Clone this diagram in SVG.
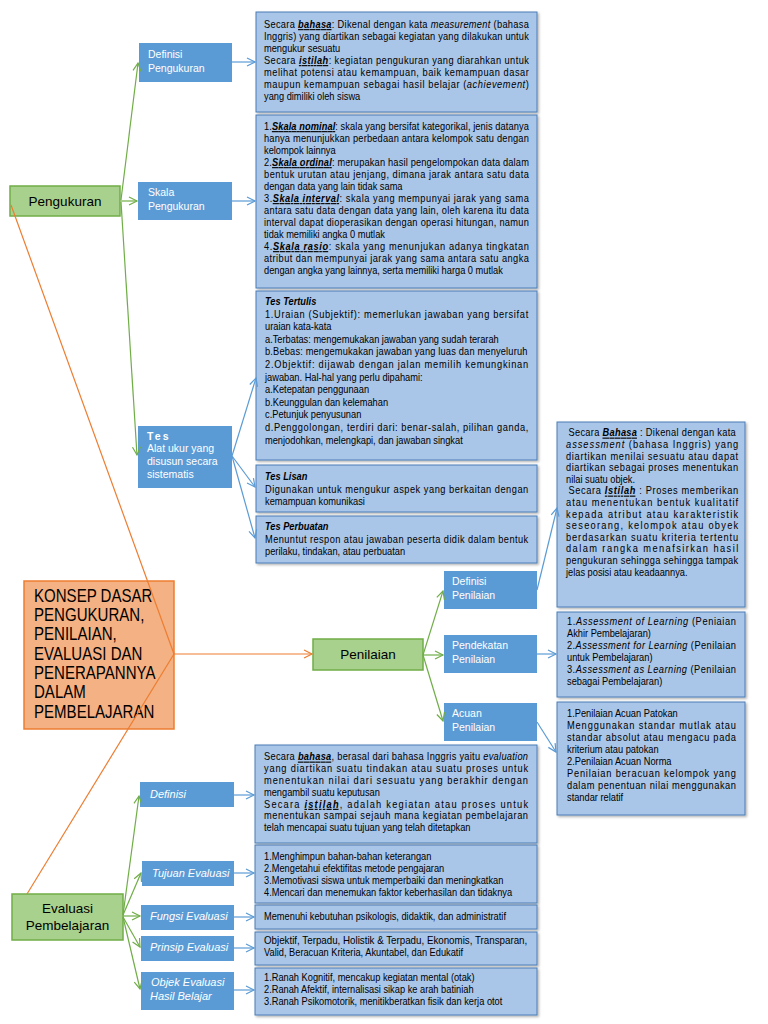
<svg xmlns="http://www.w3.org/2000/svg" width="768" height="1024" viewBox="0 0 768 1024">
<defs>
<style>
.det{fill:#a9c5e7;stroke:#4a7cb6;stroke-width:1;filter:url(#sh)}
.nb{fill:#5b9bd5}
.gr{fill:#a9d18e;stroke:#70ad47;stroke-width:1.5}
.ko{fill:#f4b183;stroke:#ed7d31;stroke-width:1.5}
.t{font-family:"Liberation Sans",Arial,sans-serif;font-size:11.3px;fill:#000}
.w{font-family:"Liberation Sans",Arial,sans-serif;font-size:10.5px;fill:#fff}
.wi{font-family:"Liberation Sans",Arial,sans-serif;font-size:11px;fill:#fff;font-style:italic}
.big{font-family:"Liberation Sans",Arial,sans-serif;font-size:13.5px;fill:#000;text-anchor:middle}
.bi{font-weight:bold;font-style:italic;text-decoration:underline}
.b2{font-weight:bold;font-style:italic}
.i{font-style:italic}
.cg{stroke:#70ad47;stroke-width:1.2;fill:none;marker-end:url(#ag)}
.cb{stroke:#5b9bd5;stroke-width:1.2;fill:none;marker-end:url(#ab)}
.co{stroke:#ed7d31;stroke-width:1.2;fill:none}
</style>
<filter id="sh" x="-5%" y="-5%" width="112%" height="115%">
<feDropShadow dx="1.5" dy="1.5" stdDeviation="0.8" flood-color="#000" flood-opacity="0.3"/>
</filter>
<marker id="ag" markerUnits="userSpaceOnUse" markerWidth="12" markerHeight="12" refX="9" refY="5" orient="auto"><path d="M1,1 L9,5 L1,9" fill="none" stroke="#70ad47" stroke-width="1.2"/></marker>
<marker id="ab" markerUnits="userSpaceOnUse" markerWidth="12" markerHeight="12" refX="9" refY="5" orient="auto"><path d="M1,1 L9,5 L1,9" fill="none" stroke="#5b9bd5" stroke-width="1.2"/></marker>
<marker id="ao" markerUnits="userSpaceOnUse" markerWidth="12" markerHeight="12" refX="9" refY="5" orient="auto"><path d="M1,1 L9,5 L1,9" fill="none" stroke="#ed7d31" stroke-width="1.2"/></marker>
</defs>
<rect width="768" height="1024" fill="#fff"/>

<g id="konsep">
<rect class="ko" x="24" y="581" width="150" height="148"/>
<g transform="translate(34,0) scale(0.86,1)" font-family="Liberation Sans,Arial,sans-serif" font-size="17.5" fill="#000">
<text x="0" y="602">KONSEP DASAR</text>
<text x="0" y="621">PENGUKURAN,</text>
<text x="0" y="640.5">PENILAIAN,</text>
<text x="0" y="660">EVALUASI DAN</text>
<text x="0" y="679">PENERAPANNYA</text>
<text x="0" y="698.5">DALAM</text>
<text x="0" y="718">PEMBELAJARAN</text>
</g>
</g>

<g id="pengukuran">
<rect class="gr" x="10" y="186" width="110" height="30"/>
<text class="big" x="65" y="205.5">Pengukuran</text>
</g>
<g id="def-pengukuran">
<rect class="nb" x="139" y="43" width="93" height="39"/>
<text class="w" x="148" y="58">Definisi</text>
<text class="w" x="148" y="72">Pengukuran</text>
</g>
<g id="skala-pengukuran">
<rect class="nb" x="138" y="182" width="94" height="38"/>
<text class="w" x="148" y="196">Skala</text>
<text class="w" x="148" y="210">Pengukuran</text>
</g>
<g id="tes">
<rect class="nb" x="138" y="426" width="94" height="62"/>
<text class="w" x="147" y="440" font-weight="bold" letter-spacing="2.2" font-size="11">Tes</text>
<text class="w" x="147" y="452" font-size="9.6">Alat ukur yang</text>
<text class="w" x="147" y="465" font-size="9.6">disusun secara</text>
<text class="w" x="147" y="477.5" font-size="9.6">sistematis</text>
</g>

<g id="box-def-pengukuran">
<rect class="det" x="256" y="12" width="281" height="100"/>
<g class="t" transform="translate(264,0) scale(0.82,1)">
<text x="0" y="28" textLength="323" lengthAdjust="spacing">Secara <tspan class="bi">bahasa</tspan>: Dikenal dengan kata <tspan class="i">measurement</tspan> (bahasa</text>
<text x="0" y="40" textLength="323" lengthAdjust="spacing">Inggris) yang diartikan sebagai kegiatan yang dilakukan untuk</text>
<text x="0" y="52">mengukur sesuatu</text>
<text x="0" y="64" textLength="323" lengthAdjust="spacing">Secara <tspan class="bi">istilah</tspan>: kegiatan pengukuran yang diarahkan untuk</text>
<text x="0" y="76" textLength="323" lengthAdjust="spacing">melihat potensi atau kemampuan, baik kemampuan dasar</text>
<text x="0" y="88" textLength="323" lengthAdjust="spacing">maupun kemampuan sebagai hasil belajar (<tspan class="i">achievement</tspan>)</text>
<text x="0" y="100">yang dimiliki oleh siswa</text>
</g>
</g>

<g id="box-skala">
<rect class="det" x="256" y="115" width="281" height="173"/>
<g class="t" transform="translate(264,0) scale(0.82,1)">
<text x="0" y="130" textLength="323" lengthAdjust="spacing">1.<tspan class="bi">Skala nominal</tspan>: skala yang bersifat kategorikal, jenis datanya</text>
<text x="0" y="142" textLength="323" lengthAdjust="spacing">hanya menunjukkan perbedaan antara kelompok satu dengan</text>
<text x="0" y="154">kelompok lainnya</text>
<text x="0" y="166" textLength="323" lengthAdjust="spacing">2.<tspan class="bi">Skala ordinal</tspan>: merupakan hasil pengelompokan data dalam</text>
<text x="0" y="178" textLength="323" lengthAdjust="spacing">bentuk urutan atau jenjang, dimana jarak antara satu data</text>
<text x="0" y="190">dengan data yang lain tidak sama</text>
<text x="0" y="202" textLength="323" lengthAdjust="spacing">3.<tspan class="bi">Skala interval</tspan>: skala yang mempunyai jarak yang sama</text>
<text x="0" y="214" textLength="323" lengthAdjust="spacing">antara satu data dengan data yang lain, oleh karena itu data</text>
<text x="0" y="226" textLength="323" lengthAdjust="spacing">interval dapat dioperasikan dengan operasi hitungan, namun</text>
<text x="0" y="238">tidak memiliki angka 0 mutlak</text>
<text x="0" y="250" textLength="323" lengthAdjust="spacing">4.<tspan class="bi">Skala rasio</tspan>: skala yang menunjukan adanya tingkatan</text>
<text x="0" y="262" textLength="323" lengthAdjust="spacing">atribut dan mempunyai jarak yang sama antara satu angka</text>
<text x="0" y="274">dengan angka yang lainnya, serta memiliki harga 0 mutlak</text>
</g>
</g>

<g id="box-tes-tertulis">
<rect class="det" x="256" y="291" width="281" height="169"/>
<g class="t" transform="translate(265,0) scale(0.82,1)">
<text x="0" y="305" class="b2">Tes Tertulis</text>
<text x="0" y="317.6" textLength="321" lengthAdjust="spacing">1.Uraian (Subjektif): memerlukan jawaban yang bersifat</text>
<text x="0" y="330.2">uraian kata-kata</text>
<text x="0" y="342.8">a.Terbatas: mengemukakan jawaban yang sudah terarah</text>
<text x="0" y="355.4" textLength="320" lengthAdjust="spacing">b.Bebas: mengemukakan jawaban yang luas dan menyeluruh</text>
<text x="0" y="368" textLength="321" lengthAdjust="spacing">2.Objektif: dijawab dengan jalan memilih kemungkinan</text>
<text x="0" y="380.6">jawaban. Hal-hal yang perlu dipahami:</text>
<text x="0" y="393.2">a.Ketepatan penggunaan</text>
<text x="0" y="405.8">b.Keunggulan dan kelemahan</text>
<text x="0" y="418.4">c.Petunjuk penyusunan</text>
<text x="0" y="431" textLength="321" lengthAdjust="spacing">d.Penggolongan, terdiri dari: benar-salah, pilihan ganda,</text>
<text x="0" y="443.6">menjodohkan, melengkapi, dan jawaban singkat</text>
</g>
</g>

<g id="box-tes-lisan">
<rect class="det" x="256" y="465" width="281" height="47"/>
<g class="t" transform="translate(265,0) scale(0.82,1)">
<text x="0" y="480" class="b2">Tes Lisan</text>
<text x="0" y="493" textLength="321" lengthAdjust="spacing">Digunakan untuk mengukur aspek yang berkaitan dengan</text>
<text x="0" y="505">kemampuan komunikasi</text>
</g>
</g>

<g id="box-tes-perbuatan">
<rect class="det" x="256" y="516" width="281" height="47"/>
<g class="t" transform="translate(265,0) scale(0.82,1)">
<text x="0" y="530" class="b2">Tes Perbuatan</text>
<text x="0" y="543" textLength="321" lengthAdjust="spacing">Menuntut respon atau jawaban peserta didik dalam bentuk</text>
<text x="0" y="555">perilaku, tindakan, atau perbuatan</text>
</g>
</g>

<g id="penilaian">
<rect class="gr" x="313" y="639" width="110" height="31"/>
<text class="big" x="368" y="659">Penilaian</text>
</g>
<g id="def-penilaian">
<rect class="nb" x="444" y="571" width="93" height="38"/>
<text class="w" x="452" y="585">Definisi</text>
<text class="w" x="452" y="599">Penilaian</text>
</g>
<g id="pendekatan-penilaian">
<rect class="nb" x="444" y="635" width="93" height="38"/>
<text class="w" x="452" y="649">Pendekatan</text>
<text class="w" x="452" y="663">Penilaian</text>
</g>
<g id="acuan-penilaian">
<rect class="nb" x="444" y="703" width="93" height="38"/>
<text class="w" x="452" y="717">Acuan</text>
<text class="w" x="452" y="731">Penilaian</text>
</g>

<g id="box-def-penilaian">
<rect class="det" x="557" y="422" width="188" height="185"/>
<g class="t" transform="translate(566,0) scale(0.82,1)">
<text x="3" y="436.5" textLength="204" lengthAdjust="spacing">Secara <tspan class="bi">Bahasa</tspan> : Dikenal dengan kata</text>
<text x="0" y="448.1" textLength="210" lengthAdjust="spacing"><tspan class="i">assessment</tspan> (bahasa Inggris) yang</text>
<text x="0" y="459.7" textLength="210" lengthAdjust="spacing">diartikan menilai sesuatu atau dapat</text>
<text x="0" y="471.3" textLength="210" lengthAdjust="spacing">diartikan sebagai proses menentukan</text>
<text x="0" y="482.9">nilai suatu objek.</text>
<text x="3" y="494.5" textLength="207" lengthAdjust="spacing">Secara <tspan class="bi">Istilah</tspan> : Proses memberikan</text>
<text x="0" y="506.1" textLength="210" lengthAdjust="spacing">atau menentukan bentuk kualitatif</text>
<text x="0" y="517.7" textLength="210" lengthAdjust="spacing">kepada atribut atau karakteristik</text>
<text x="0" y="529.3" textLength="210" lengthAdjust="spacing">seseorang, kelompok atau obyek</text>
<text x="0" y="540.9" textLength="210" lengthAdjust="spacing">berdasarkan suatu kriteria tertentu</text>
<text x="0" y="552.5" textLength="210" lengthAdjust="spacing">dalam rangka menafsirkan hasil</text>
<text x="0" y="564.1" textLength="210" lengthAdjust="spacing">pengukuran sehingga sehingga tampak</text>
<text x="0" y="575.7">jelas posisi atau keadaannya.</text>
</g>
</g>

<g id="box-pendekatan">
<rect class="det" x="557" y="612" width="188" height="85"/>
<g class="t" transform="translate(567,0) scale(0.82,1)">
<text x="0" y="625.5" textLength="206" lengthAdjust="spacing">1.<tspan class="i">Assessment of Learning</tspan> (Peniaian</text>
<text x="0" y="637.5">Akhir Pembelajaran)</text>
<text x="0" y="649.5" textLength="206" lengthAdjust="spacing">2.<tspan class="i">Assessment for Learning</tspan> (Penilaian</text>
<text x="0" y="661.5">untuk Pembelajaran)</text>
<text x="0" y="673.5" textLength="206" lengthAdjust="spacing">3.<tspan class="i">Assessment as Learning</tspan> (Penilaian</text>
<text x="0" y="685.5">sebagai Pembelajaran)</text>
</g>
</g>

<g id="box-acuan">
<rect class="det" x="557" y="702" width="188" height="113"/>
<g class="t" transform="translate(567,0) scale(0.82,1)">
<text x="0" y="717.5">1.Penilaian Acuan Patokan</text>
<text x="0" y="729.4" textLength="206" lengthAdjust="spacing">Menggunakan standar mutlak atau</text>
<text x="0" y="741.3" textLength="206" lengthAdjust="spacing">standar absolut atau mengacu pada</text>
<text x="0" y="753.2">kriterium atau patokan</text>
<text x="0" y="765.1">2.Penilaian Acuan Norma</text>
<text x="0" y="777" textLength="206" lengthAdjust="spacing">Penilaian beracuan kelompok yang</text>
<text x="0" y="788.9" textLength="206" lengthAdjust="spacing">dalam penentuan nilai menggunakan</text>
<text x="0" y="800.8">standar relatif</text>
</g>
</g>

<g id="evaluasi">
<rect class="gr" x="12" y="894" width="111" height="46"/>
<text class="big" x="67.5" y="912.5">Evaluasi</text>
<text class="big" x="67.5" y="930">Pembelajaran</text>
</g>
<g id="eval-definisi">
<rect class="nb" x="140" y="782" width="94" height="25"/>
<text class="wi" x="150" y="798">Definisi</text>
</g>
<g id="eval-tujuan">
<rect class="nb" x="142" y="861" width="92" height="25"/>
<text class="wi" x="152" y="876.5">Tujuan Evaluasi</text>
</g>
<g id="eval-fungsi">
<rect class="nb" x="141" y="905" width="93" height="25"/>
<text class="wi" x="150" y="920">Fungsi Evaluasi</text>
</g>
<g id="eval-prinsip">
<rect class="nb" x="141" y="936" width="93" height="25"/>
<text class="wi" x="150" y="951">Prinsip Evaluasi</text>
</g>
<g id="eval-objek">
<rect class="nb" x="141" y="972" width="93" height="38"/>
<text class="wi" x="151" y="986">Objek Evaluasi</text>
<text class="wi" x="150" y="1000">Hasil Belajar</text>
</g>

<g id="box-eval-def">
<rect class="det" x="255" y="745" width="282" height="98"/>
<g class="t" transform="translate(264,0) scale(0.82,1)">
<text x="0" y="760.5" textLength="322" lengthAdjust="spacing">Secara <tspan class="bi">bahasa</tspan>, berasal dari bahasa Inggris yaitu <tspan class="i">evaluation</tspan></text>
<text x="0" y="772.3" textLength="322" lengthAdjust="spacing">yang diartikan suatu tindakan atau suatu proses untuk</text>
<text x="0" y="784.1" textLength="322" lengthAdjust="spacing">menentukan nilai dari sesuatu yang berakhir dengan</text>
<text x="0" y="795.9">mengambil suatu keputusan</text>
<text x="0" y="807.7" textLength="322" lengthAdjust="spacing">Secara <tspan class="bi">istilah</tspan>, adalah kegiatan atau proses untuk</text>
<text x="0" y="819.5" textLength="322" lengthAdjust="spacing">menentukan sampai sejauh mana kegiatan pembelajaran</text>
<text x="0" y="831.3">telah mencapai suatu tujuan yang telah ditetapkan</text>
</g>
</g>

<g id="box-tujuan">
<rect class="det" x="255" y="845" width="282" height="58"/>
<g class="t" transform="translate(264,0) scale(0.82,1)">
<text x="0" y="860.5">1.Menghimpun bahan-bahan keterangan</text>
<text x="0" y="872.3">2.Mengetahui efektifitas metode pengajaran</text>
<text x="0" y="884.1">3.Memotivasi siswa untuk memperbaiki dan meningkatkan</text>
<text x="0" y="895.9">4.Mencari dan menemukan faktor keberhasilan dan tidaknya</text>
</g>
</g>

<g id="box-fungsi">
<rect class="det" x="255" y="905" width="282" height="24"/>
<g class="t" transform="translate(264,0) scale(0.82,1)">
<text x="0" y="920.5">Memenuhi kebutuhan psikologis, didaktik, dan administratif</text>
</g>
</g>

<g id="box-prinsip">
<rect class="det" x="255" y="932" width="282" height="33"/>
<g class="t" transform="translate(264,0) scale(0.82,1)">
<text x="0" y="944.5" textLength="321" lengthAdjust="spacingAndGlyphs">Objektif, Terpadu, Holistik &amp; Terpadu, Ekonomis, Transparan,</text>
<text x="0" y="956.2">Valid, Beracuan Kriteria, Akuntabel, dan Edukatif</text>
</g>
</g>

<g id="box-objek">
<rect class="det" x="255" y="968" width="282" height="47"/>
<g class="t" transform="translate(264,0) scale(0.82,1)">
<text x="0" y="981.5">1.Ranah Kognitif, mencakup kegiatan mental (otak)</text>
<text x="0" y="993.1">2.Ranah Afektif, internalisasi sikap ke arah batiniah</text>
<text x="0" y="1004.7">3.Ranah Psikomotorik, menitikberatkan fisik dan kerja otot</text>
</g>
</g>

<g id="connectors">
<path class="co" d="M174,654 L11,205"/>
<path class="co" d="M174,654 L27,894"/>
<path class="co" d="M174,654 L312,654" marker-end="url(#ao)"/>
<path class="cg" d="M121,200 L138,63"/>
<path class="cg" d="M121,201 L137,201"/>
<path class="cg" d="M121,202 L137,455"/>
<path class="cg" d="M423,655 L443,591"/>
<path class="cg" d="M423,655 L443,655"/>
<path class="cg" d="M423,655 L443,721"/>
<path class="cg" d="M123,915 L139,796"/>
<path class="cg" d="M123,915 L141,873"/>
<path class="cg" d="M123,916 L140,916"/>
<path class="cg" d="M123,917 L140,947"/>
<path class="cg" d="M123,917 L140,989"/>
<path class="cb" d="M232,62 L255,62"/>
<path class="cb" d="M232,201 L255,201"/>
<path class="cb" d="M232,456 L256,378"/>
<path class="cb" d="M232,456 L255,487"/>
<path class="cb" d="M232,456 L255,538"/>
<path class="cb" d="M537,590 L557,508"/>
<path class="cb" d="M537,654 L556,654"/>
<path class="cb" d="M537,722 L556,752"/>
<path class="cb" d="M234,795 L254,795"/>
<path class="cb" d="M234,873 L254,873"/>
<path class="cb" d="M234,917 L254,917"/>
<path class="cb" d="M234,948 L254,948"/>
<path class="cb" d="M234,990 L254,990"/>
</g>
</svg>
